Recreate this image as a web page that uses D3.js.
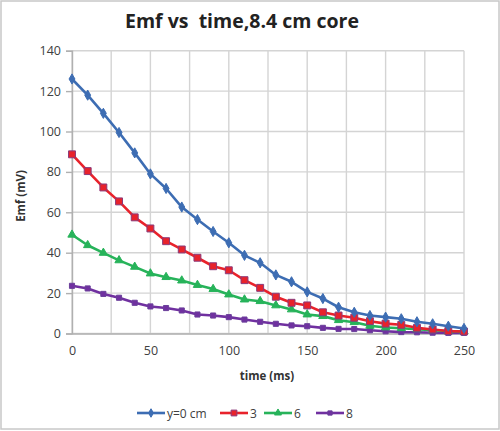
<!DOCTYPE html>
<html><head><meta charset="utf-8">
<script src="https://cdn.jsdelivr.net/npm/d3@7"></script>
<style>body{margin:0;background:#fff}svg{display:block}</style>
</head><body><svg id="c" width="500" height="431"></svg>
<script>
const times = [0,10,20,30,40,50,60,70,80,90,100,110,120,130,140,150,160,170,180,190,200,210,220,230,240,250];
const y0 = [126,118,109,99.5,89.4,79,71.8,62.6,56.4,50.5,44.9,38.7,35,29,25.6,20.6,17.3,13,10.5,8.9,8.1,7.3,5.8,4.8,3.6,2.5];
const y3 = [88.7,80.4,72.3,65.4,57.5,52,45.7,41.6,37.5,33.3,31.3,26.4,22.6,18.2,15.2,13.9,10.5,8.9,7.8,6.1,4.9,4.3,2.8,2,1.2,1];
const y6 = [48.9,43.7,39.9,36.2,33,29.7,27.9,26.2,24,22,19.3,16.8,16,13.9,11.9,9.4,8.6,6.6,5.6,3.8,3,2.6,2.1,1.6,1.2,1];
const y8 = [23.6,22.3,19.6,17.7,15.2,13.4,12.6,11.4,9.4,8.9,8.1,6.9,5.8,4.8,4,3.6,2.8,2.3,2.2,1.6,1.1,0.7,0.6,0.4,0.3,0.3];
const seriesNames = ["y=0 cm","3","6","8"];
const xTicks = [0,50,100,150,200,250];
const yTicks = [0,20,40,60,80,100,120,140];

const svg = d3.select("#c");
const font = "'Open Sans', 'Liberation Sans', sans-serif";
svg.append("rect").attr("x",1).attr("y",1).attr("width",498).attr("height",428)
  .attr("fill","#fff").attr("stroke","#c8c8c8").attr("stroke-width",1.5);

const x = d3.scaleLinear().domain([0,250]).range([72,464]);
const y = d3.scaleLinear().domain([0,140]).range([333.5,50.7]);

const g = svg.append("g");
g.selectAll(".vg").data(d3.range(0,251,25)).join("line")
  .attr("x1",d=>x(d)).attr("x2",d=>x(d)).attr("y1",y(140)).attr("y2",y(0))
  .attr("stroke","#d4d4d4").attr("stroke-width",1.4);
g.selectAll(".hg").data(yTicks).join("line")
  .attr("x1",x(0)).attr("x2",x(250)).attr("y1",d=>y(d)).attr("y2",d=>y(d))
  .attr("stroke","#d4d4d4").attr("stroke-width",1.4);

const yAxis = d3.axisLeft(y).tickValues(yTicks).tickSize(6).tickPadding(5);
const ya = svg.append("g").attr("transform",`translate(${x(0)},0)`).call(yAxis);
const xAxis = d3.axisBottom(x).tickValues(xTicks).tickSize(0).tickPadding(13);
const xa = svg.append("g").attr("transform",`translate(0,${y(0)})`).call(xAxis);
[ya,xa].forEach(a=>{
  a.select(".domain").attr("stroke","#b0b0b0").attr("stroke-width",1.4);
  a.selectAll(".tick line").attr("stroke","#b0b0b0").attr("stroke-width",1.4);
  a.selectAll("text").attr("font-family",font).attr("font-size",12.5).attr("fill","#404040");
});

svg.append("text").attr("x",242).attr("y",28).attr("text-anchor","middle")
  .attr("font-family",font).attr("font-weight","bold").attr("font-size",19.5).attr("fill","#222")
  .attr("xml:space","preserve").style("white-space","pre").text("Emf vs  time,8.4 cm core");
svg.append("text").attr("x",267).attr("y",380).attr("text-anchor","middle")
  .attr("font-family",font).attr("font-weight","bold").attr("font-size",11.5).attr("fill","#333")
  .text("time (ms)");
svg.append("text").attr("transform","translate(25,196) rotate(-90)").attr("text-anchor","middle")
  .attr("font-family",font).attr("font-weight","bold").attr("font-size",11.5).attr("fill","#333")
  .text("Emf (mV)");

const series = [
  {name:seriesNames[0], vals:y0, color:"#3d6db3", stroke:"#3d6db3", sym:d3.symbolDiamond, size:30},
  {name:seriesNames[1], vals:y3, color:"#e8222b", stroke:"#8a3a7a", sym:d3.symbolSquare, size:48},
  {name:seriesNames[2], vals:y6, color:"#27b35a", stroke:"#27b35a", sym:d3.symbolTriangle, size:30},
  {name:seriesNames[3], vals:y8, color:"#7030a0", stroke:"#6a3f9a", sym:d3.symbolSquare, size:26}
];
const line = d3.line().x((d,i)=>x(times[i])).y(d=>y(d));
[3,2,1,0].forEach(k=>{
  const s = series[k];
  svg.append("path").datum(s.vals).attr("d",line).attr("fill","none")
    .attr("stroke",s.color).attr("stroke-width",2.6).attr("stroke-linejoin","round");
  svg.append("g").selectAll("path").data(s.vals).join("path")
    .attr("transform",(d,i)=>`translate(${x(times[i])},${y(d)})`)
    .attr("d",d3.symbol().type(s.sym).size(s.size))
    .attr("fill",s.color).attr("stroke",s.stroke).attr("stroke-width",1);
});

const leg = svg.append("g");
series.forEach((s,i)=>{
  const gx = [137,220,264,316][i];
  leg.append("line").attr("x1",gx).attr("x2",gx+28).attr("y1",413).attr("y2",413)
    .attr("stroke",s.color).attr("stroke-width",2.6);
  leg.append("path").attr("transform",`translate(${gx+14},413)`)
    .attr("d",d3.symbol().type(s.sym).size(s.size*0.7)).attr("fill",s.color).attr("stroke",s.stroke);
  leg.append("text").attr("x",gx+30).attr("y",417.5).attr("font-family",font).attr("font-size",12)
    .attr("fill","#404040").text(s.name);
});
</script></body></html>
